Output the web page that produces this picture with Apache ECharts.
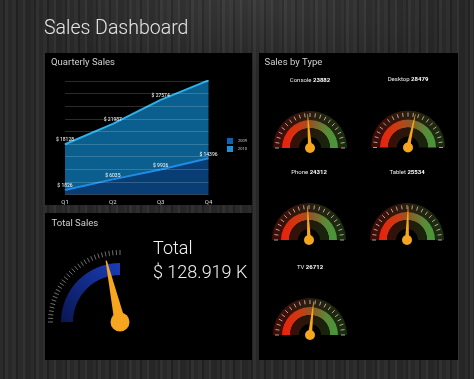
<!DOCTYPE html>
<html><head><meta charset="utf-8">
<script src="https://cdn.jsdelivr.net/npm/echarts@6/dist/echarts.min.js"></script>
<style>
html,body{margin:0;padding:0;width:474px;height:379px;overflow:hidden;}
body{background:
 radial-gradient(ellipse 220px 70px at 250px 0px, rgba(255,255,255,0.07), rgba(255,255,255,0)),
 repeating-linear-gradient(90deg,#2b2b2b 0px,#2b2b2b 3px,#232323 3px,#232323 5px,#313131 5px,#313131 8px,#282828 8px,#282828 12px,#2e2e2e 12px,#2e2e2e 16px,#202020 16px,#202020 18px,#2a2a2a 18px,#2a2a2a 23px,#333 23px,#333 25px,#262626 25px,#262626 31px);}
#main{width:474px;height:379px;}
</style></head>
<body><div id="main"></div>
<script>
// ---- data ----
const quarters = ['Q1', 'Q2', 'Q3', 'Q4'];
const seriesNames = ['2009', '2010'];
const sales2009 = [1826, 6035, 9926, 14396];
const sales2010 = [18128, 21987, 27574, 30841];
const types = ['Console', 'Desktop', 'Phone', 'Tablet', 'TV'];
const typeValues = [23882, 28479, 24312, 25534, 26712];
const typeMax = 50000;
const totalMax = 150000;

// ---- layout ----
const FONT = 'Roboto, "Noto Sans", sans-serif';
const gaugeCenters = [[310, 148], [408, 147.5], [309, 240], [407, 240], [310, 335]];
const ORANGE = '#f5a51e';
const NEEDLE = 'path://M4.4,0 L5.6,0 L10,100 L0,100 Z';

const chart = echarts.init(document.getElementById('main'), null, {renderer: 'canvas'});
const total = typeValues.reduce((a, b) => a + b, 0);

const LG = (x0, y0, x1, y1, stops) => new echarts.graphic.LinearGradient(x0, y0, x1, y1, stops);

const series = [
  {
    name: seriesNames[0], type: 'line', stack: 'total', data: sales2009,
    symbol: 'circle', symbolSize: 1, z: 2,
    itemStyle: {color: '#0f5fb2'},
    lineStyle: {color: '#1f8de6', width: 2},
    areaStyle: {color: '#093e74', opacity: 1},
    label: {show: true, position: 'top', distance: 1, fontSize: 5, color: '#fff', fontFamily: FONT,
      formatter: p => '$ ' + p.value}
  },
  {
    name: seriesNames[1], type: 'line', stack: 'total', data: sales2010,
    symbol: 'circle', symbolSize: 1, z: 2,
    itemStyle: {color: '#1c90d8'},
    lineStyle: {color: '#2bb0ea', width: 2},
    areaStyle: {color: '#0a5f8e', opacity: 1},
    label: {show: true, position: 'top', distance: 1, fontSize: 5, color: '#fff', fontFamily: FONT,
      formatter: p => '$ ' + p.value}
  }
];

const hidden = {
  axisTick: {show: false}, axisLabel: {show: false}, splitLine: {show: false},
  pointer: {show: false}, detail: {show: false}, title: {show: false}, anchor: {show: false}
};

// Total gauge
series.push(Object.assign({}, hidden, {
  type: 'gauge', center: [120, 322], radius: 72, startAngle: 180, endAngle: 90,
  min: 0, max: totalMax, splitNumber: 30,
  axisLine: {show: false, lineStyle: {width: 0}},
  splitLine: {show: true, length: 5, distance: 0, lineStyle: {color: 'rgba(200,200,200,0.55)', width: 1}},
  data: [{value: total}]
}));
series.push(Object.assign({}, hidden, {
  type: 'gauge', center: [120, 322], radius: 59, startAngle: 180, endAngle: 90,
  min: 0, max: totalMax,
  axisLine: {show: true, lineStyle: {width: 12, color: [[1, LG(0, 1, 1, 0, [
    {offset: 0, color: '#0a1650'}, {offset: 1, color: '#1a3cb8'}])]]}},
  data: [{value: total}]
}));
series.push(Object.assign({}, hidden, {
  type: 'gauge', center: [120, 322], radius: 72, startAngle: 180, endAngle: 90,
  min: 0, max: totalMax,
  axisLine: {show: false, lineStyle: {width: 0}},
  pointer: {show: true, icon: NEEDLE, length: 63, width: 11, itemStyle: {color: ORANGE}},
  anchor: {show: true, size: 19, itemStyle: {color: ORANGE}},
  data: [{value: total}]
}));

// Type gauges
types.forEach((name, i) => {
  const c = gaugeCenters[i];
  const base = {type: 'gauge', center: c, startAngle: 180, endAngle: 0, min: 0, max: typeMax};
  series.push(Object.assign({}, hidden, base, {
    radius: 37, splitNumber: 20,
    axisLine: {show: true, lineStyle: {width: 9, color: [[1, LG(0, 0, 1, 0, [
      {offset: 0, color: '#420b06'}, {offset: 0.5, color: '#2c1d0e'}, {offset: 1, color: '#1a2e0e'}])]]}},
    splitLine: {show: true, length: 4, distance: -7, lineStyle: {color: 'rgba(225,225,225,0.7)', width: 1}},
    data: [{value: typeValues[i]}]
  }));
  series.push(Object.assign({}, hidden, base, {
    radius: 28,
    axisLine: {show: true, lineStyle: {width: 8, color: [[1, LG(0, 0, 1, 0, [
      {offset: 0, color: '#ec200e'}, {offset: 0.3, color: '#cc3a10'}, {offset: 0.55, color: '#8c5a2a'},
      {offset: 0.8, color: '#5a8a38'}, {offset: 1, color: '#44993a'}])]]}},
    data: [{value: typeValues[i]}]
  }));
  series.push(Object.assign({}, hidden, base, {
    radius: 20,
    axisLine: {show: true, lineStyle: {width: 9, color: [[1, LG(0, 0, 1, 0, [
      {offset: 0, color: '#3a0e06'}, {offset: 0.5, color: '#25180c'}, {offset: 1, color: '#16260c'}])]]}},
    data: [{value: typeValues[i]}]
  }));
  series.push(Object.assign({}, hidden, base, {
    radius: 37,
    axisLine: {show: false, lineStyle: {width: 0}},
    pointer: {show: true, icon: NEEDLE, length: 34, width: 4, itemStyle: {color: ORANGE}},
    anchor: {show: true, size: 10, itemStyle: {color: ORANGE}},
    detail: {show: true, offsetCenter: [0, -68], fontFamily: FONT, fontSize: 6, fontWeight: 'normal', color: '#eeeeee',
      formatter: v => '{n|' + name + '} {v|' + v + '}',
      rich: {n: {fontSize: 6, color: '#eeeeee', fontWeight: 'normal', fontFamily: FONT},
             v: {fontSize: 6, color: '#ffffff', fontWeight: 'bold', fontFamily: FONT}}},
    data: [{value: typeValues[i], name: name}]
  }));
});

const txt = (x, y, text, size, weight, fill) => ({
  type: 'text', x: x, y: y, z: 50,
  style: {text: text, fontSize: size, fontWeight: weight, fontFamily: FONT, fill: fill,
    align: 'left', verticalAlign: 'middle'}
});

const option = {
  animation: false,
  backgroundColor: 'transparent',
  textStyle: {fontFamily: FONT},
  graphic: {elements: [
    {type: 'rect', z: -10, shape: {x: 45, y: 53, width: 207, height: 152}, style: {fill: '#000'}},
    {type: 'rect', z: -10, shape: {x: 259, y: 53, width: 199, height: 307}, style: {fill: '#000'}},
    {type: 'rect', z: -10, shape: {x: 45, y: 213, width: 207, height: 147}, style: {fill: '#000'}},
    txt(44, 29, 'Sales Dashboard', 19.5, 300, '#e6e6e6'),
    txt(51, 62.5, 'Quarterly Sales', 9.5, 'normal', '#d0d0d0'),
    txt(264.5, 62.5, 'Sales by Type', 9.5, 'normal', '#d0d0d0'),
    txt(51.5, 223.5, 'Total Sales', 9.5, 'normal', '#d0d0d0'),
    txt(153, 249, 'Total', 18, 300, '#f2f2f2'),
    txt(153, 273, '$ ' + (total / 1000).toFixed(3) + ' K', 18, 300, '#f2f2f2')
  ]},
  legend: {
    orient: 'vertical', left: 222, top: 133, itemWidth: 6, itemHeight: 6, itemGap: 2,
    icon: 'rect', textStyle: {fontSize: 4, color: '#cccccc', fontFamily: FONT},
    data: [{name: seriesNames[0], itemStyle: {color: '#0f5fb2'}}, {name: seriesNames[1], itemStyle: {color: '#1c90d8'}}]
  },
  grid: {left: 65, top: 81, width: 143.5, height: 113.6, containLabel: false},
  xAxis: {
    type: 'category', data: quarters, boundaryGap: false,
    axisLine: {show: false}, axisTick: {show: false},
    axisLabel: {color: '#dddddd', fontSize: 6, margin: 5, fontFamily: FONT},
    splitLine: {show: false}
  },
  yAxis: {
    type: 'value', min: 0, max: 45000, interval: 5000, z: 3,
    axisLine: {show: false}, axisTick: {show: false}, axisLabel: {show: false},
    splitLine: {show: true, lineStyle: {color: 'rgba(255,255,255,0.17)', width: 1}}
  },
  series: series
};
chart.setOption(option);
</script></body></html>
